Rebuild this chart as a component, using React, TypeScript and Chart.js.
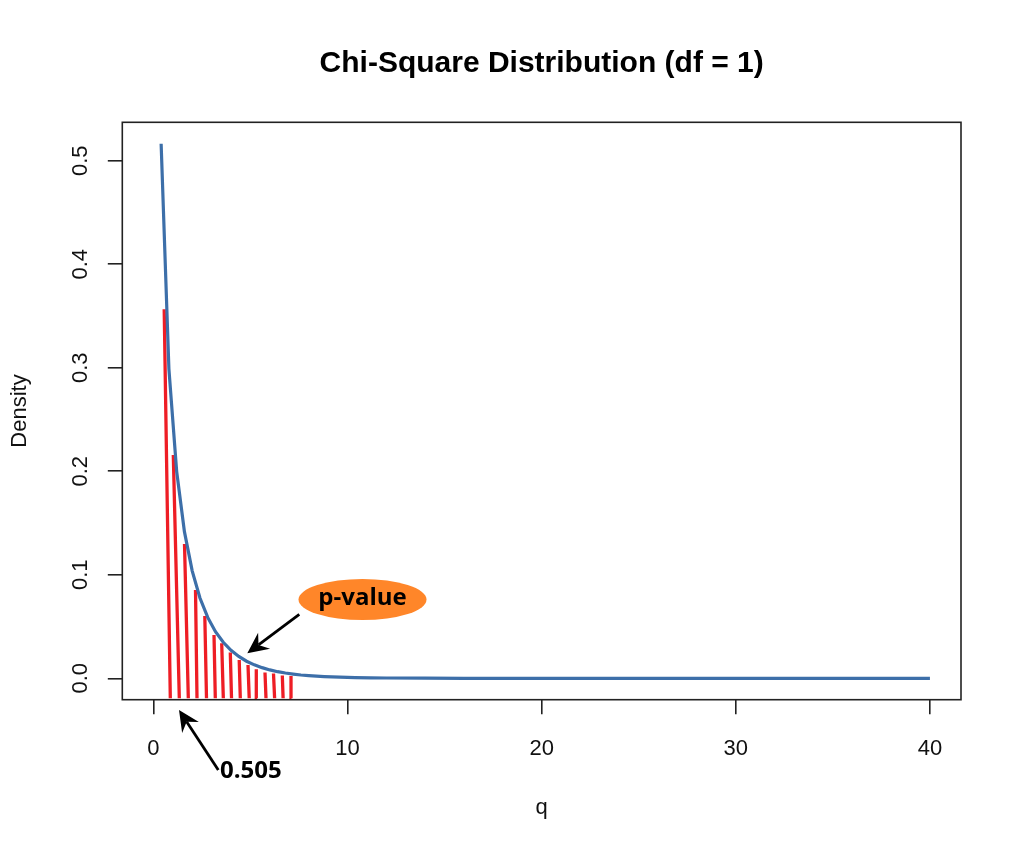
import { useEffect, useRef } from "react";
import { Chart, registerables } from "chart.js";

Chart.register(...registerables);

// ---- data ----
const chartTitle = "Chi-Square Distribution (df = 1)";
const xAxisTitle = "q";
const yAxisTitle = "Density";
const xTicks = [0, 10, 20, 30, 40];
const yTicks = [0.0, 0.1, 0.2, 0.3, 0.4, 0.5];
const xRange = [-1.6, 41.6];
const yRange = [-0.02066, 0.5371];

// chi-square (df = 1) density curve
const curveX = [0.4, 0.8, 1.2, 1.6, 2.0, 2.4, 2.8, 3.2, 3.6, 4.0, 4.4, 4.8, 5.2, 5.6, 6.0, 6.4, 6.8, 7.2, 7.6, 8.0, 8.8, 9.6, 10.4, 11.2, 12.0, 14, 16, 20, 30, 40];
const curveY = [0.5164, 0.299, 0.1999, 0.1417, 0.1038, 0.0776, 0.0588, 0.045, 0.0348, 0.027, 0.0211, 0.0165, 0.013, 0.0103, 0.0081, 0.0064, 0.0051, 0.0041, 0.0032, 0.0026, 0.0017, 0.0011, 0.0007, 0.0004, 0.0003, 0.0001, 0.0, 0.0, 0.0, 0.0];

// red hatching strokes (p-value area)
const hatchBaseX = [0.873, 1.336, 1.8, 2.248, 2.737, 3.19, 3.603, 4.025, 4.478, 4.937, 5.338, 5.802, 6.245, 6.683, 7.116];
const hatchTopX = [0.558, 1.027, 1.604, 2.171, 2.65, 3.124, 3.52, 3.963, 4.422, 4.875, 5.302, 5.75, 6.188, 6.642, 7.09];
const hatchTopY = [0.3565, 0.2157, 0.1297, 0.0853, 0.0602, 0.0418, 0.0338, 0.0249, 0.0177, 0.0129, 0.0087, 0.0056, 0.0046, 0.0027, 0.0022];
const hatchBaseY = -0.0193;

// annotations (data coordinates)
const pLabel = { text: "p-value", x: 10.773, y: 0.0761, textY: 0.0705 };
const pArrow = { fromX: 7.517, fromY: 0.0618, toX: 4.839, toY: 0.02415 };
const qLabel = { text: "0.505", x: 3.433, y: -0.0966 };
const qArrow = { fromX: 3.345, fromY: -0.0886, toX: 1.321, toY: -0.0306 };

const SANS = '"Liberation Sans", Arial, sans-serif';
const ANNOT = '"Open Sans", "Noto Sans", sans-serif';

function drawArrow(ctx: CanvasRenderingContext2D, x0: number, y0: number, x1: number, y1: number) {
  const ang = Math.atan2(y1 - y0, x1 - x0);
  const L = 21, W = 10, N = 7;
  const dx = Math.cos(ang), dy = Math.sin(ang);
  const px = -dy, py = dx;
  ctx.save();
  ctx.strokeStyle = "#000";
  ctx.fillStyle = "#000";
  ctx.lineWidth = 2.8;
  ctx.beginPath();
  ctx.moveTo(x0, y0);
  ctx.lineTo(x1 - dx * (L - N), y1 - dy * (L - N));
  ctx.stroke();
  ctx.beginPath();
  ctx.moveTo(x1, y1);
  ctx.lineTo(x1 - dx * L + px * W, y1 - dy * L + py * W);
  ctx.lineTo(x1 - dx * (L - N), y1 - dy * (L - N));
  ctx.lineTo(x1 - dx * L - px * W, y1 - dy * L - py * W);
  ctx.closePath();
  ctx.fill();
  ctx.restore();
}

const decorPlugin = {
  id: "decor",
  afterDraw(chart: any) {
    const ctx: CanvasRenderingContext2D = chart.ctx;
    const { left, right, top, bottom } = chart.chartArea;
    const xs = chart.scales.x;
    const ys = chart.scales.y;
    ctx.save();
    // box
    ctx.strokeStyle = "#222";
    ctx.lineWidth = 1.6;
    ctx.strokeRect(left, top, right - left, bottom - top);

    // title
    ctx.fillStyle = "#000";
    ctx.font = `bold 30px ${SANS}`;
    ctx.textAlign = "center";
    ctx.textBaseline = "alphabetic";
    ctx.fillText(chartTitle, (left + right) / 2, 72);

    // x tick labels
    ctx.font = `22px ${SANS}`;
    ctx.fillStyle = "#111";
    for (const v of xTicks) {
      ctx.fillText(String(v), xs.getPixelForValue(v), 754.5);
    }
    // x title
    ctx.fillText(xAxisTitle, (left + right) / 2, 813.5);

    // y tick labels (rotated)
    for (const v of yTicks) {
      ctx.save();
      ctx.translate(87.3, ys.getPixelForValue(v));
      ctx.rotate(-Math.PI / 2);
      ctx.textAlign = "center";
      ctx.fillText(v.toFixed(1), 0, 0);
      ctx.restore();
    }
    // y title
    ctx.save();
    ctx.translate(25.5, (top + bottom) / 2);
    ctx.rotate(-Math.PI / 2);
    ctx.textAlign = "center";
    ctx.fillText(yAxisTitle, 0, 0);
    ctx.restore();

    // p-value bubble
    const ex = xs.getPixelForValue(pLabel.x);
    const ey = ys.getPixelForValue(pLabel.y);
    ctx.fillStyle = "#FF8629";
    ctx.beginPath();
    ctx.ellipse(ex, ey, 64, 20.5, 0, 0, Math.PI * 2);
    ctx.fill();
    ctx.fillStyle = "#000";
    ctx.font = `bold 24px ${ANNOT}`;
    ctx.textAlign = "center";
    ctx.fillText(pLabel.text, ex, ys.getPixelForValue(pLabel.textY));

    drawArrow(ctx, xs.getPixelForValue(pArrow.fromX), ys.getPixelForValue(pArrow.fromY), xs.getPixelForValue(pArrow.toX), ys.getPixelForValue(pArrow.toY));
    drawArrow(ctx, xs.getPixelForValue(qArrow.fromX), ys.getPixelForValue(qArrow.fromY), xs.getPixelForValue(qArrow.toX), ys.getPixelForValue(qArrow.toY));

    ctx.textAlign = "left";
    ctx.fillText(qLabel.text, xs.getPixelForValue(qLabel.x), ys.getPixelForValue(qLabel.y));
    ctx.restore();
  },
};

export default function App() {
  const ref = useRef<HTMLCanvasElement | null>(null);
  useEffect(() => {
    if (!ref.current) return;
    const curve = curveX.map((x, i) => ({ x, y: curveY[i] }));
    const hatch: { x: number; y: number | null }[] = [];
    hatchBaseX.forEach((bx, i) => {
      hatch.push({ x: bx, y: hatchBaseY });
      hatch.push({ x: hatchTopX[i], y: hatchTopY[i] });
      hatch.push({ x: hatchTopX[i], y: null });
    });
    const chart = new Chart(ref.current, {
      type: "line",
      data: {
        datasets: [
          {
            data: curve,
            borderColor: "#3D6FA9",
            borderWidth: 3.2,
            pointRadius: 0,
            tension: 0,
            fill: false,
          },
          {
            data: hatch as any,
            borderColor: "#EE1D25",
            borderWidth: 3.3,
            pointRadius: 0,
            tension: 0,
            spanGaps: false,
            fill: false,
          },
        ],
      },
      options: {
        animation: false,
        responsive: false,
        devicePixelRatio: 1,
        layout: { padding: { top: 122.3, right: 63, left: 0, bottom: 0 } },
        plugins: { legend: { display: false }, tooltip: { enabled: false }, title: { display: false } },
        events: [],
        scales: {
          x: {
            type: "linear",
            min: xRange[0],
            max: xRange[1],
            afterBuildTicks: (s: any) => {
              s.ticks = xTicks.map((v) => ({ value: v }));
            },
            afterFit: (s: any) => {
              s.height = 152.3;
            },
            ticks: { display: false },
            border: { display: false },
            grid: { drawOnChartArea: false, drawTicks: true, tickLength: 14.5, color: "#222", lineWidth: 1.6 },
          },
          y: {
            type: "linear",
            min: yRange[0],
            max: yRange[1],
            afterBuildTicks: (s: any) => {
              s.ticks = yTicks.map((v) => ({ value: v }));
            },
            afterFit: (s: any) => {
              s.width = 122.3;
            },
            ticks: { display: false },
            border: { display: false },
            grid: { drawOnChartArea: false, drawTicks: true, tickLength: 14.5, color: "#222", lineWidth: 1.6 },
          },
        },
      },
      plugins: [decorPlugin],
    });
    return () => chart.destroy();
  }, []);
  return (
    <div style={{ position: "absolute", left: 0, top: 0, width: 1024, height: 852, background: "#fff" }}>
      <canvas ref={ref} width={1024} height={852} style={{ width: 1024, height: 852, display: "block" }} />
    </div>
  );
}
